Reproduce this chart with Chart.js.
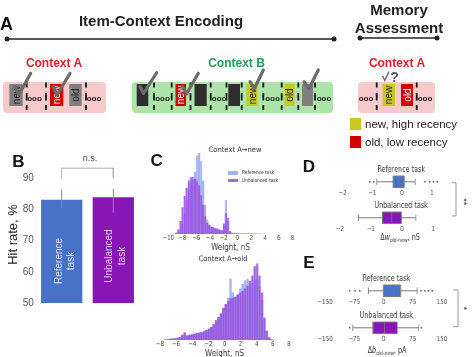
<!DOCTYPE html>
<html><head><meta charset="utf-8">
<script src="https://cdn.jsdelivr.net/npm/chart.js@4.4.1/dist/chart.umd.min.js"></script>
<style>
html,body{margin:0;padding:0;background:#fff}
body{width:474px;height:357px;overflow:hidden;position:relative;font-family:"Liberation Sans",Arial,sans-serif}
canvas{position:absolute}
.sq{transform-origin:0 0;transform:scaleX(0.8)}
.t{position:absolute;white-space:nowrap;line-height:1;font-family:"DejaVu Sans",sans-serif;color:#333}
sub{font-size:70%;vertical-align:-2px}
</style></head><body>
<canvas id="cB" width="145" height="153" style="left:0;top:158px"></canvas>
<canvas id="cNew" class="sq" width="189" height="102" style="left:155px;top:150px"></canvas>
<canvas id="cOld" class="sq" width="196" height="100" style="left:146px;top:258px"></canvas>
<canvas id="cDRef" class="sq" width="178" height="33" style="left:330px;top:165px"></canvas>
<canvas id="cDUnb" class="sq" width="178" height="33" style="left:330px;top:201px"></canvas>
<canvas id="cERef" class="sq" width="172" height="33" style="left:316px;top:274px"></canvas>
<canvas id="cEUnb" class="sq" width="172" height="33" style="left:316px;top:311px"></canvas>

<svg width="474" height="357" viewBox="0 0 474 357" style="position:absolute;left:0;top:0" font-family="Liberation Sans, Arial, sans-serif">
 <text x="6.5" y="30" font-size="18" font-weight="bold" text-anchor="middle" fill="#111">A</text>
 <text x="161" y="26" font-size="15" font-weight="bold" text-anchor="middle" fill="#222">Item-Context Encoding</text>
 <text x="399" y="15" font-size="15" font-weight="bold" text-anchor="middle" fill="#222">Memory</text>
 <text x="399" y="33" font-size="15" font-weight="bold" text-anchor="middle" fill="#222">Assessment</text>
 <line x1="7" y1="39" x2="334" y2="39" stroke="#222" stroke-width="1.5"/>
 <circle cx="7" cy="39" r="2.5" fill="#222"/><circle cx="334" cy="39" r="2.5" fill="#222"/>
 <line x1="360" y1="38" x2="437" y2="38" stroke="#222" stroke-width="1.5"/>
 <circle cx="360" cy="38" r="2.5" fill="#222"/><circle cx="437" cy="38" r="2.5" fill="#222"/>
 <text x="54" y="66.5" font-size="12" font-weight="bold" text-anchor="middle" fill="#e0202a">Context A</text>
 <text x="236.5" y="66.5" font-size="12" font-weight="bold" text-anchor="middle" fill="#1e9e5a">Context B</text>
 <text x="397" y="66.5" font-size="12" font-weight="bold" text-anchor="middle" fill="#e0202a">Context A</text>

 <rect x="3" y="82" width="103" height="31" rx="4" fill="#f6caca"/>
 <rect x="132" y="82" width="201" height="31" rx="4" fill="#ade4a8"/>
 <rect x="358" y="82" width="77" height="31" rx="4" fill="#f6caca"/>

 <g font-size="10">
  <rect x="9.3" y="84" width="13.4" height="22" fill="#7f7f7f"/>
  <text transform="translate(16,95) rotate(-90)" text-anchor="middle" dy="3.5" fill="#222">new</text>
  <rect x="50" y="84" width="13.3" height="22" fill="#d40000"/>
  <text transform="translate(56.7,95) rotate(-90)" text-anchor="middle" dy="3.5" fill="#fff">new</text>
  <rect x="69.3" y="84" width="12.4" height="22" fill="#7f7f7f"/>
  <text transform="translate(75.5,95) rotate(-90)" text-anchor="middle" dy="3.5" fill="#222">old</text>

  <rect x="136.7" y="84" width="11.6" height="22" fill="#2e2e2e"/>
  <rect x="175.5" y="84" width="10.5" height="22" fill="#d40000"/>
  <text transform="translate(180.8,95) rotate(-90)" text-anchor="middle" dy="3.5" fill="#fff">new</text>
  <rect x="194.5" y="84" width="12.2" height="22" fill="#2e2e2e"/>
  <rect x="228.3" y="84" width="11.7" height="22" fill="#2e2e2e"/>
  <rect x="246.5" y="84" width="11" height="22" fill="#c8c81e"/>
  <text transform="translate(252,95) rotate(-90)" text-anchor="middle" dy="3.5" fill="#222">new</text>
  <rect x="284.5" y="84" width="10" height="22" fill="#c8c81e"/>
  <text transform="translate(289.5,95) rotate(-90)" text-anchor="middle" dy="3.5" fill="#222">old</text>
  <rect x="302" y="84" width="11" height="22" fill="#7f7f7f"/>

  <rect x="382.7" y="84" width="12.3" height="22" fill="#c8c81e"/>
  <text transform="translate(388.8,95) rotate(-90)" text-anchor="middle" dy="3.5" fill="#222">new</text>
  <rect x="401" y="84" width="12" height="22" fill="#d40000"/>
  <text transform="translate(407,95) rotate(-90)" text-anchor="middle" dy="3.5" fill="#fff">old</text>
 </g>

 <g stroke="#111" stroke-width="1.8" id="seps">
 </g>
 <g font-size="8" font-weight="bold" fill="#222" text-anchor="middle">
  <text x="34.5" y="101">ooo</text><text x="94" y="101">ooo</text>
  <text x="162.5" y="101">ooo</text><text x="219" y="101">ooo</text>
  <text x="272.5" y="101">ooo</text><text x="324" y="101">ooo</text>
  <text x="366" y="101">ooo</text><text x="425" y="101">ooo</text>
 </g>
 <g fill="none" stroke="#6c6c6c" stroke-width="3.2" stroke-linecap="round" stroke-linejoin="round">
  <path d="M15,86.7 L18.8,95 L30.7,73.3"/>
  <path d="M53.3,86.7 L57,95 L70,73.3"/>
  <path d="M140,86.7 L143.5,93.5 L156.7,72.7"/>
  <path d="M182.7,86.7 L186.5,94 L198.3,73.3"/>
  <path d="M250,81.7 L254.5,88.5 L263.3,70"/>
  <path d="M304,81.7 L309,88.5 L318.3,70"/>
 </g>
 <path d="M382.5,76 L384.8,80.5 L389,71.5" fill="none" stroke="#666" stroke-width="1.4"/>
 <text x="394.5" y="82" font-size="14" font-weight="bold" text-anchor="middle" fill="#555">?</text>

 <rect x="350" y="118" width="11" height="12" fill="#c8c81e"/>
 <text x="365" y="128" font-size="11.5" fill="#222">new, high recency</text>
 <rect x="350" y="136" width="11" height="12" fill="#d40000"/>
 <text x="365" y="146" font-size="11.5" fill="#222">old, low recency</text>

 <g font-size="17" font-weight="bold" fill="#111" text-anchor="middle">
  <text x="18.3" y="167">B</text><text x="156.7" y="165.5">C</text>
  <text x="309" y="171.5">D</text><text x="309" y="268">E</text>
 </g>
 <text x="90" y="160.5" font-size="9" text-anchor="middle" fill="#444">n.s.</text>
 <text transform="translate(62,261) rotate(-90)" text-anchor="middle" font-size="10" fill="#dfe6fa"><tspan x="0" y="0">Reference</tspan><tspan x="0" y="11.7">task</tspan></text>
 <text transform="translate(113,256) rotate(-90)" text-anchor="middle" font-size="10" fill="#f0c8ff"><tspan x="0" y="-1.1">Unbalanced</tspan><tspan x="0" y="12.3">task</tspan></text>

 <path d="M451.7,182.7 H456 V216 H451.7" fill="none" stroke="#999" stroke-width="1"/>
 <text transform="translate(461,201.7) rotate(90)" text-anchor="middle" font-size="9" fill="#333">**</text>
 <path d="M453,290 H458 V326.7 H453" fill="none" stroke="#999" stroke-width="1"/>
 <text transform="translate(461,308.3) rotate(90)" text-anchor="middle" font-size="9" fill="#333">*</text>
</svg>

<script>
// ---------- data ----------
const barCategories = ['Reference task', 'Unbalanced task'];
const hitRate = [83.2, 84.0];
const hitRateLow = [80.5, 79.0];
const hitRateHigh = [86.5, 86.7];
const hitRateTicks = [50, 60, 70, 80, 90];
const bracketLevels = [90.2, 93.3];

const weightBinsNew = [-8.85,-8.55,-8.25,-7.95,-7.65,-7.35,-7.05,-6.75,-6.45,-6.15,-5.85,-5.55,-5.25,-4.95,-4.65,-4.35,-4.05,-3.75,-3.45,-3.15,-2.85,-2.55,-2.25,-1.95,-1.65,-1.35,-1.05,-0.75,-0.45,-0.15,0.15,0.45,0.75,1.05,1.35,1.65,1.95,2.25,2.55,2.85,3.15,3.45,3.75,4.05,4.35];
const refNew = [1,2,5,12,25,42,55,63,68,77,97,100,90,66,36,18,11,9,8,7,7,6,5,10,42,16,3,2,1.5,1.5,1,1,1,1,1,1,1,0.8,0.8,0.6,0.6,0.5,0.5,0.4,0.3];
const unbNew = [2,6,16,33,47,57,66,70,70,68,66,60,48,36,22,14,11,9,8,7,6,5,4,13,26,20,3,0.5,0.3,0.3,0.2,0.2,0.2,0.2,0.2,0.2,0.1,0.1,0.1,0.1,0.1,0.1,0,0,0];
const weightTicksNew = [-10,-8,-6,-4,-2,0,2,4,6,8];

const weightBinsOld = [-7.35,-7.05,-6.75,-6.45,-6.15,-5.85,-5.55,-5.25,-4.95,-4.65,-4.35,-4.05,-3.75,-3.45,-3.15,-2.85,-2.55,-2.25,-1.95,-1.65,-1.35,-1.05,-0.75,-0.45,-0.15,0.15,0.45,0.75,1.05,1.35,1.65,1.95,2.25,2.55,2.85,3.15,3.45,3.75,4.05,4.35,4.65,4.95,5.25,5.55,5.85];
const refOld = [0.5,1,1.5,2,2.5,3,4,6,9,6,7,8,8,9,10,10,12,13,15,17,20,24,29,34,40,46,55,80,62,57,60,67,73,78,80,72,74,78,80,70,52,30,12,4,1];
const unbOld = [0.5,1,1.5,2,2,3,4,7,10,6,7,7,8,9,9,10,11,13,15,17,21,26,30,35,42,47,51,54,55,56,59,62,64,67,71,77,84,96,100,84,62,28,12,3,1];
const weightTicksOld = [-8,-6,-4,-2,0,2,4,6,8];

// box stats: [whisker low, Q1, median, Q3, whisker high]
const dwRef = [-0.85, -0.29, -0.08, 0.08, 0.44];
const dwRefOutliers = [-1.08, -0.95, 0.77, 0.93, 1.06, 1.19];
const dwUnb = [-1.4, -0.63, -0.34, -0.02, 0.44];
const dwUnbOutliers = [];
const dwTicks = [-2, -1, 0, 1];

const dbRef = [-39, 0, 27, 44, 86];
const dbRefOutliers = [-87, -73, -61, 96, 106, 115, 125];
const dbUnb = [-79, -27, 2.5, 35, 90];
const dbUnbOutliers = [-87, 97];
const dbTicks = [-150, -75, 0, 75, 150];

// ---------- styles ----------
const BLUE = '#4872c6', PURPLE = '#8617b5';
const HIST_BLUE = 'rgba(128,152,236,0.75)', HIST_PURPLE = 'rgba(152,78,222,0.85)';
const BOX_H = 0.8, CAP_H = 0.45, EDGE = '#7a7a7a';

Chart.defaults.font.family = "'DejaVu Sans', sans-serif";
Chart.defaults.responsive = false;
Chart.defaults.animation = false;
Chart.defaults.devicePixelRatio = 1;
Chart.defaults.events = [];
Chart.defaults.plugins.legend.display = false;
Chart.defaults.plugins.tooltip.enabled = false;

// separators drawn as dashed marks in the diagram
(function(){
  const g = document.getElementById('seps');
  [26.7,46,86,154,171.7,190.5,210.7,226.5,241.7,263.3,281.7,298.3,315,376.7,416.7].forEach(x => {
    [[82.5,87.5],[93,100.5],[105,110]].forEach(([a,b]) => {
      const l = document.createElementNS('http://www.w3.org/2000/svg','line');
      l.setAttribute('x1',x); l.setAttribute('x2',x); l.setAttribute('y1',a); l.setAttribute('y2',b);
      g.appendChild(l);
    });
  });
})();

const fmt = v => String(v).replace('-', '\u2212');
const fixedTicks = values => scale => { scale.ticks = values.map(v => ({value: v})); };

// ---------- Panel B ----------
new Chart(document.getElementById('cB'), {
  type: 'bar',
  data: {
    labels: barCategories,
    datasets: [
      {data: hitRate, backgroundColor: [BLUE, PURPLE], barPercentage: 0.8, categoryPercentage: 1, order: 5},
      ...barCategories.map((c, i) => ({type: 'line', data: [{x: c, y: hitRateLow[i]}, {x: c, y: hitRateHigh[i]}],
        borderColor: '#8f8f8f', borderWidth: 1, pointRadius: 0, order: 0})),
      {type: 'line', data: [{x: barCategories[0], y: bracketLevels[0]}, {x: barCategories[0], y: bracketLevels[1]},
        {x: barCategories[1], y: bracketLevels[1]}, {x: barCategories[1], y: bracketLevels[0]}],
        borderColor: '#b0b0b0', borderWidth: 1, pointRadius: 0, order: 0, clip: false}
    ]
  },
  options: {
    layout: {padding: {left: 5.2, top: 5.5, right: 5.9, bottom: 2.7}},
    scales: {
      x: {display: false},
      y: {min: 50, max: 94, afterBuildTicks: fixedTicks(hitRateTicks),
        grid: {display: false, drawTicks: false}, border: {display: false},
        ticks: {padding: 2, color: '#555', font: {family: 'Liberation Sans', size: 10}},
        title: {display: true, text: 'Hit rate, %', color: '#222', padding: 0, font: {family: 'Liberation Sans', size: 13}}}
    }
  }
});

// ---------- Panel C ----------
function histChart(id, bins, ref, unb, ticks, min, max, pad) {
  const mk = (label, vals, color, order) => ({label, data: bins.map((x, i) => ({x, y: vals[i]})),
    backgroundColor: color, grouped: false, barPercentage: 0.94, categoryPercentage: 1, order});
  new Chart(document.getElementById(id), {
    type: 'bar',
    data: {datasets: [mk('Reference task', ref, HIST_BLUE, 1), mk('Unbalanced task', unb, HIST_PURPLE, 0)]},
    options: {
      layout: {padding: pad},
      scales: {
        x: {type: 'linear', min, max, offset: false, afterBuildTicks: fixedTicks(ticks),
          grid: {display: false, drawTicks: false}, border: {display: false},
          ticks: {autoSkip: false, maxRotation: 0, padding: 1, color: '#444', font: {size: 7, lineHeight: 1}, callback: fmt},
          title: {display: true, text: 'Weight, nS', padding: 0, color: '#333', font: {size: 9, lineHeight: 1}}},
        y: {display: false, min: 0, max: 100}
      }
    }
  });
}
histChart('cNew', weightBinsNew, refNew, unbNew, weightTicksNew, -10.8, 8.8, {left: 9.75, right: 10, top: 3, bottom: 0});
histChart('cOld', weightBinsOld, refOld, unbOld, weightTicksOld, -8.8, 8.8, {left: 9.44, right: 9.2, top: 5.3, bottom: 0});

// ---------- Panels D, E ----------
function boxSets(stats, outliers, color) {
  const [lo, q1, med, q3, hi] = stats;
  const base = {type: 'line', borderColor: EDGE, borderWidth: 1, pointRadius: 0, fill: false, clip: false, tension: 0, order: 0};
  const seg = pts => Object.assign({}, base, {data: pts});
  return [
    Object.assign({}, base, {data: [{x: q1, y: BOX_H}, {x: q3, y: BOX_H}], borderColor: 'rgba(0,0,0,0)', fill: '+1', backgroundColor: color, order: 10}),
    Object.assign({}, base, {data: [{x: q1, y: -BOX_H}, {x: q3, y: -BOX_H}], borderColor: 'rgba(0,0,0,0)', order: 9}),
    seg([{x: q1, y: -BOX_H}, {x: q3, y: -BOX_H}, {x: q3, y: BOX_H}, {x: q1, y: BOX_H}, {x: q1, y: -BOX_H}]),
    seg([{x: med, y: -BOX_H}, {x: med, y: BOX_H}]),
    seg([{x: lo, y: 0}, {x: q1, y: 0}]),
    seg([{x: q3, y: 0}, {x: hi, y: 0}]),
    seg([{x: lo, y: -CAP_H}, {x: lo, y: CAP_H}]),
    seg([{x: hi, y: -CAP_H}, {x: hi, y: CAP_H}]),
    {type: 'line', showLine: false, data: outliers.map(v => ({x: v, y: 0})), pointRadius: 1,
      pointBackgroundColor: '#555', pointBorderWidth: 0, clip: false, order: 0}
  ];
}
function boxChart(id, title, stats, outliers, color, ticks, min, max, padLeft) {
  new Chart(document.getElementById(id), {
    type: 'line',
    data: {datasets: boxSets(stats, outliers, color)},
    options: {
      layout: {padding: {left: padLeft, right: 0, top: 0, bottom: 0}},
      plugins: {title: {display: true, text: title, padding: 0, color: '#333', font: {size: 8, weight: 'normal', lineHeight: 1.2}}},
      scales: {
        x: {type: 'linear', min, max, afterBuildTicks: fixedTicks(ticks),
          grid: {display: false, drawTicks: false}, border: {display: false},
          ticks: {autoSkip: false, maxRotation: 0, padding: 1, color: '#444', font: {size: 7, lineHeight: 1}, callback: fmt}},
        y: {display: false, min: -1, max: 1}
      }
    }
  });
}
boxChart('cDRef', barCategories[0], dwRef, dwRefOutliers, BLUE, dwTicks, -2.315, 2.26, 0);
boxChart('cDUnb', barCategories[1], dwUnb, dwUnbOutliers, PURPLE, dwTicks, -2.315, 2.26, 0);
boxChart('cERef', barCategories[0], dbRef, dbRefOutliers, BLUE, dbTicks, -165, 171.5, 3.75);
boxChart('cEUnb', barCategories[1], dbUnb, dbUnbOutliers, PURPLE, dbTicks, -165, 171.5, 3.75);

// ---------- text overlays for panels C, D, E ----------
function label(x, y, html, size, sx, extra) {
  const d = document.createElement('div');
  d.className = 't';
  d.style.cssText = `left:${x}px;top:${y}px;font-size:${size}px;transform:translate(-50%,-50%) scaleX(${sx});` + (extra || '');
  d.innerHTML = html;
  document.body.appendChild(d);
}
label(235, 150, 'Context A\u2192new', 7.5, 0.9);
label(223, 258.5, 'Context A\u2192old', 7.5, 0.9);
label(400, 239, '\u0394<i>w</i><sub>old-new</sub>, nS', 8, 0.8);
label(386.7, 352, '\u0394<i>b</i><sub>old-new</sub>, pA', 8, 0.8);
function legendRow(y, color, text) {
  const p = document.createElement('div');
  p.style.cssText = `position:absolute;left:228px;top:${y - 1.8}px;width:10px;height:3.6px;background:${color}`;
  document.body.appendChild(p);
  const d = document.createElement('div');
  d.className = 't';
  d.style.cssText = `left:241.5px;top:${y}px;font-size:5.4px;transform-origin:0 50%;transform:translateY(-50%) scaleX(0.8);color:#333`;
  d.textContent = text;
  document.body.appendChild(d);
}
legendRow(172.8, HIST_BLUE, barCategories[0]);
legendRow(180.6, HIST_PURPLE, barCategories[1]);
</script>
</body></html>
